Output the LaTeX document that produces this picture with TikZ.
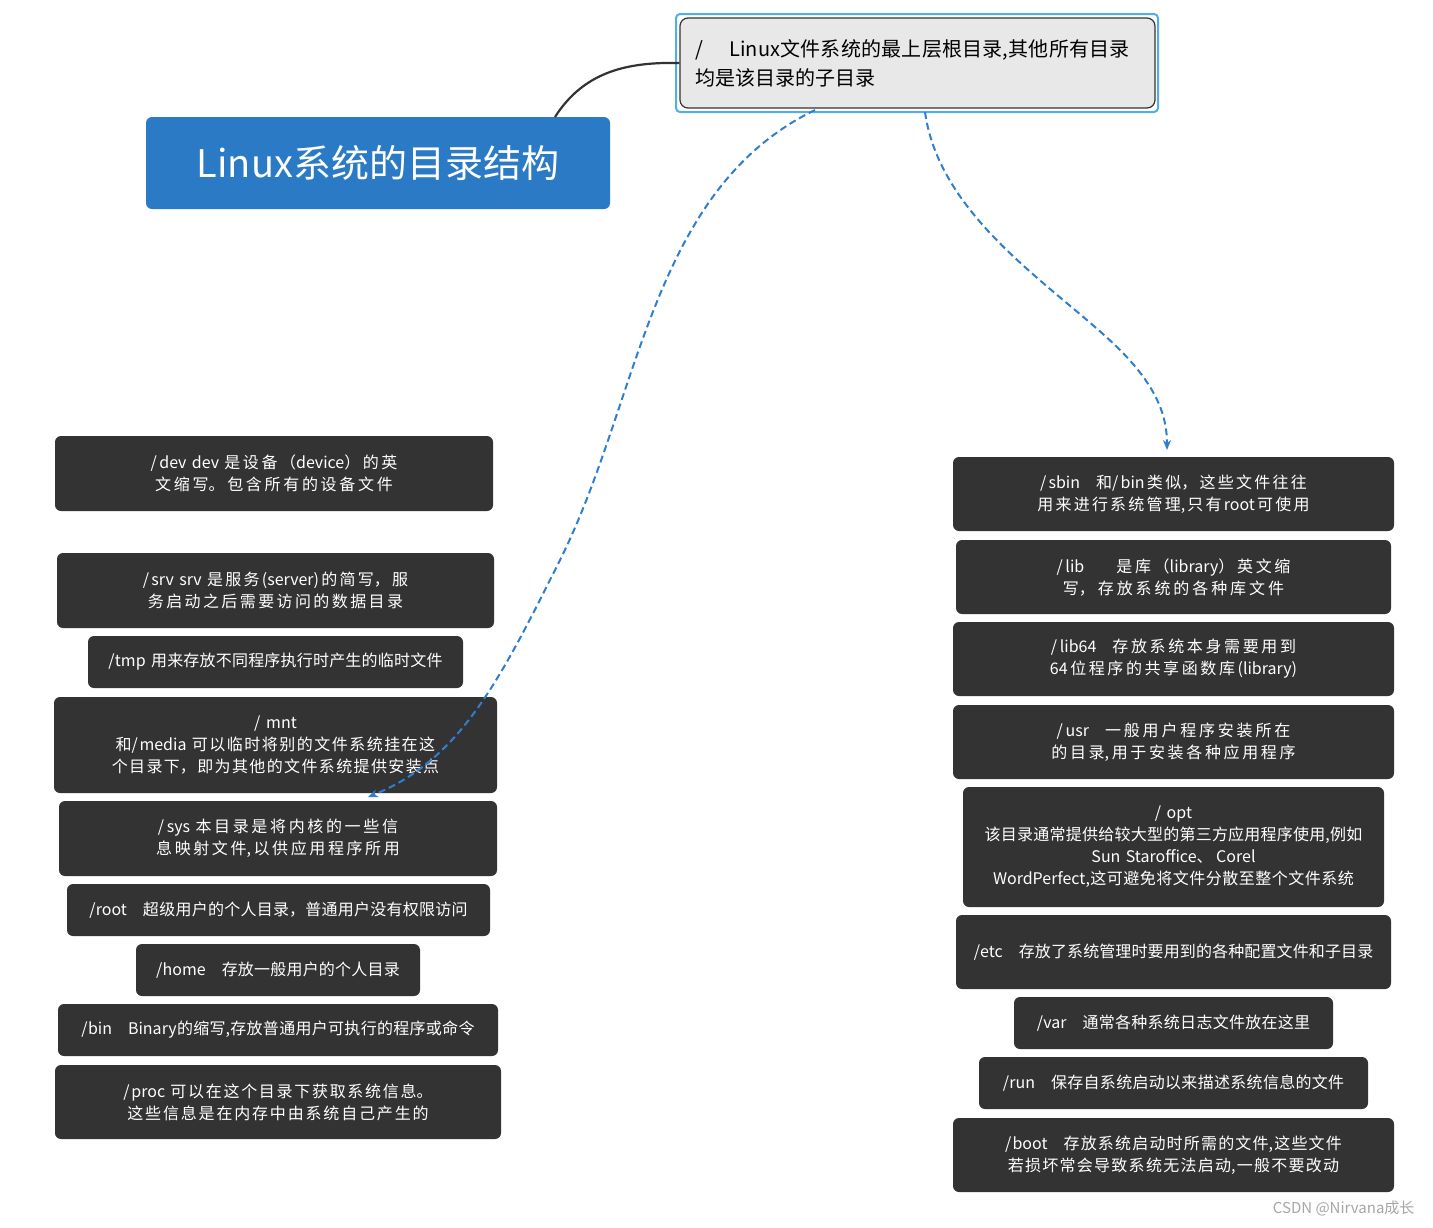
\documentclass[tikz,border=0pt]{standalone}
\usepackage{fontspec}
\setmainfont{Noto Sans CJK SC}
\XeTeXlinebreaklocale "zh"
\XeTeXlinebreakskip=0pt plus 1pt
\usetikzlibrary{arrows.meta}
\definecolor{dk}{HTML}{333333}
\definecolor{bl}{HTML}{2A7AC6}
\definecolor{dl}{HTML}{2F7ED0}
\tikzset{
 bx/.style={fill=dk,rounded corners=6pt,text=white,font=\fontsize{16}{22}\selectfont,align=center,inner sep=0pt},
 dl/.style={draw=dl,dashed,line width=2pt,dash pattern=on 7pt off 4pt,-{Stealth[length=10pt,width=8pt]}}
}
\newcommand{\bxn}[6]{%
\pgfmathsetmacro{\bw}{#3-#2}\pgfmathsetmacro{\bh}{#5-#4}\pgfmathsetmacro{\tw}{#3-#2-28}%
\node[bx,minimum width=\bw pt,minimum height=\bh pt,text width=\tw pt] (#1) at ({(#2+#3)/2},{(#4+#5)/2}) {\hyphenpenalty=10000 #6};}
\begin{document}
\begin{tikzpicture}[x=1pt,y=-1pt]
\useasboundingbox (0,0) rectangle (1433,1227);
% root
\draw[draw=cyan!80!blue!70,line width=2pt,rounded corners=4pt] (676,14) rectangle (1158,112);
\node[draw=dk,line width=1.2pt,fill=gray!18,rounded corners=8pt,minimum width=475pt,minimum height=90pt,text width=445pt,align=left,font=\fontsize{20}{29}\selectfont,inner sep=0pt] (root) at (917.5,63) {/\quad\ Linux文件系统的最上层根目录,其他所有目录均是该目录的子目录};
\node[fill=bl,rounded corners=6pt,minimum width=464pt,minimum height=92pt,text=white,font=\fontsize{38}{44}\selectfont,inner sep=0pt] (title) at (378,163) {Linux系统的目录结构};
\draw[dk,line width=2.2pt] (555,117) .. controls (585,70) and (630,62) .. (root.west);
% left
\bxn{dev}{55}{493}{436}{511}{/dev dev 是设备（device）的英文缩写。包含所有的设备文件}
\bxn{srv}{57}{494}{553}{628}{/srv srv 是服务(server)的简写，服务启动之后需要访问的数据目录}
\bxn{tmp}{88}{463}{636}{688}{/tmp 用来存放不同程序执行时产生的临时文件}
\bxn{mnt}{54}{497}{697}{793}{/mnt\\和/media 可以临时将别的文件系统挂在这个目录下，即为其他的文件系统提供安装点}
\bxn{sys}{59}{497}{801}{876}{/sys 本目录是将内核的一些信息映射文件,以供应用程序所用}
\bxn{rootd}{67}{490}{884}{936}{/root\quad 超级用户的个人目录，普通用户没有权限访问}
\bxn{home}{136}{420}{944}{996}{/home\quad 存放一般用户的个人目录}
\bxn{bin}{58}{498}{1004}{1056}{/bin\quad Binary的缩写,存放普通用户可执行的程序或命令}
\bxn{proc}{55}{501}{1065}{1139}{/proc 可以在这个目录下获取系统信息。这些信息是在内存中由系统自己产生的}
% right
\bxn{sbin}{953}{1394}{457}{531}{/sbin\quad 和/bin类似，这些文件往往用来进行系统管理,只有root可使用}
\bxn{lib}{956}{1391}{540}{614}{/lib\qquad 是库（library）英文缩写，存放系统的各种库文件}
\bxn{lib64}{953}{1394}{622}{696}{/lib64\quad 存放系统本身需要用到64位程序的共享函数库(library)}
\bxn{usr}{953}{1394}{705}{779}{/usr\quad 一般用户程序安装所在的目录,用于安装各种应用程序}
\bxn{opt}{963}{1384}{787}{907}{/opt\\该目录通常提供给较大型的第三方应用程序使用,例如\\Sun Staroffice、Corel\\WordPerfect,这可避免将文件分散至整个文件系统}
\bxn{etc}{956}{1391}{915}{989}{/etc\quad 存放了系统管理时要用到的各种配置文件和子目录}
\bxn{var}{1014}{1333}{997}{1049}{/var\quad 通常各种系统日志文件放在这里}
\bxn{run}{979}{1368}{1057}{1109}{/run\quad 保存自系统启动以来描述系统信息的文件}
\bxn{boot}{953}{1394}{1118}{1192}{/boot\quad 存放系统启动时所需的文件,这些文件若损坏常会导致系统无法启动,一般不要改动}
% connectors
\coordinate (a1) at (815,110);
\coordinate (a2) at (368,797);
\coordinate (b1) at (925,112);
\coordinate (b2) at (1167,450);
\draw[dl] (a1) .. controls (650,190) and (640,400) .. (560,560) .. controls (500,680) and (460,760) .. (a2);
\draw[dl] (b1) .. controls (940,220) and (1060,290) .. (1120,350) .. controls (1160,390) and (1167,420) .. (b2);
\node[text=gray!70,font=\fontsize{15}{18}\selectfont,anchor=east] (cr) at (1418,1208) {CSDN @Nirvana成长};
\end{tikzpicture}
\end{document}
